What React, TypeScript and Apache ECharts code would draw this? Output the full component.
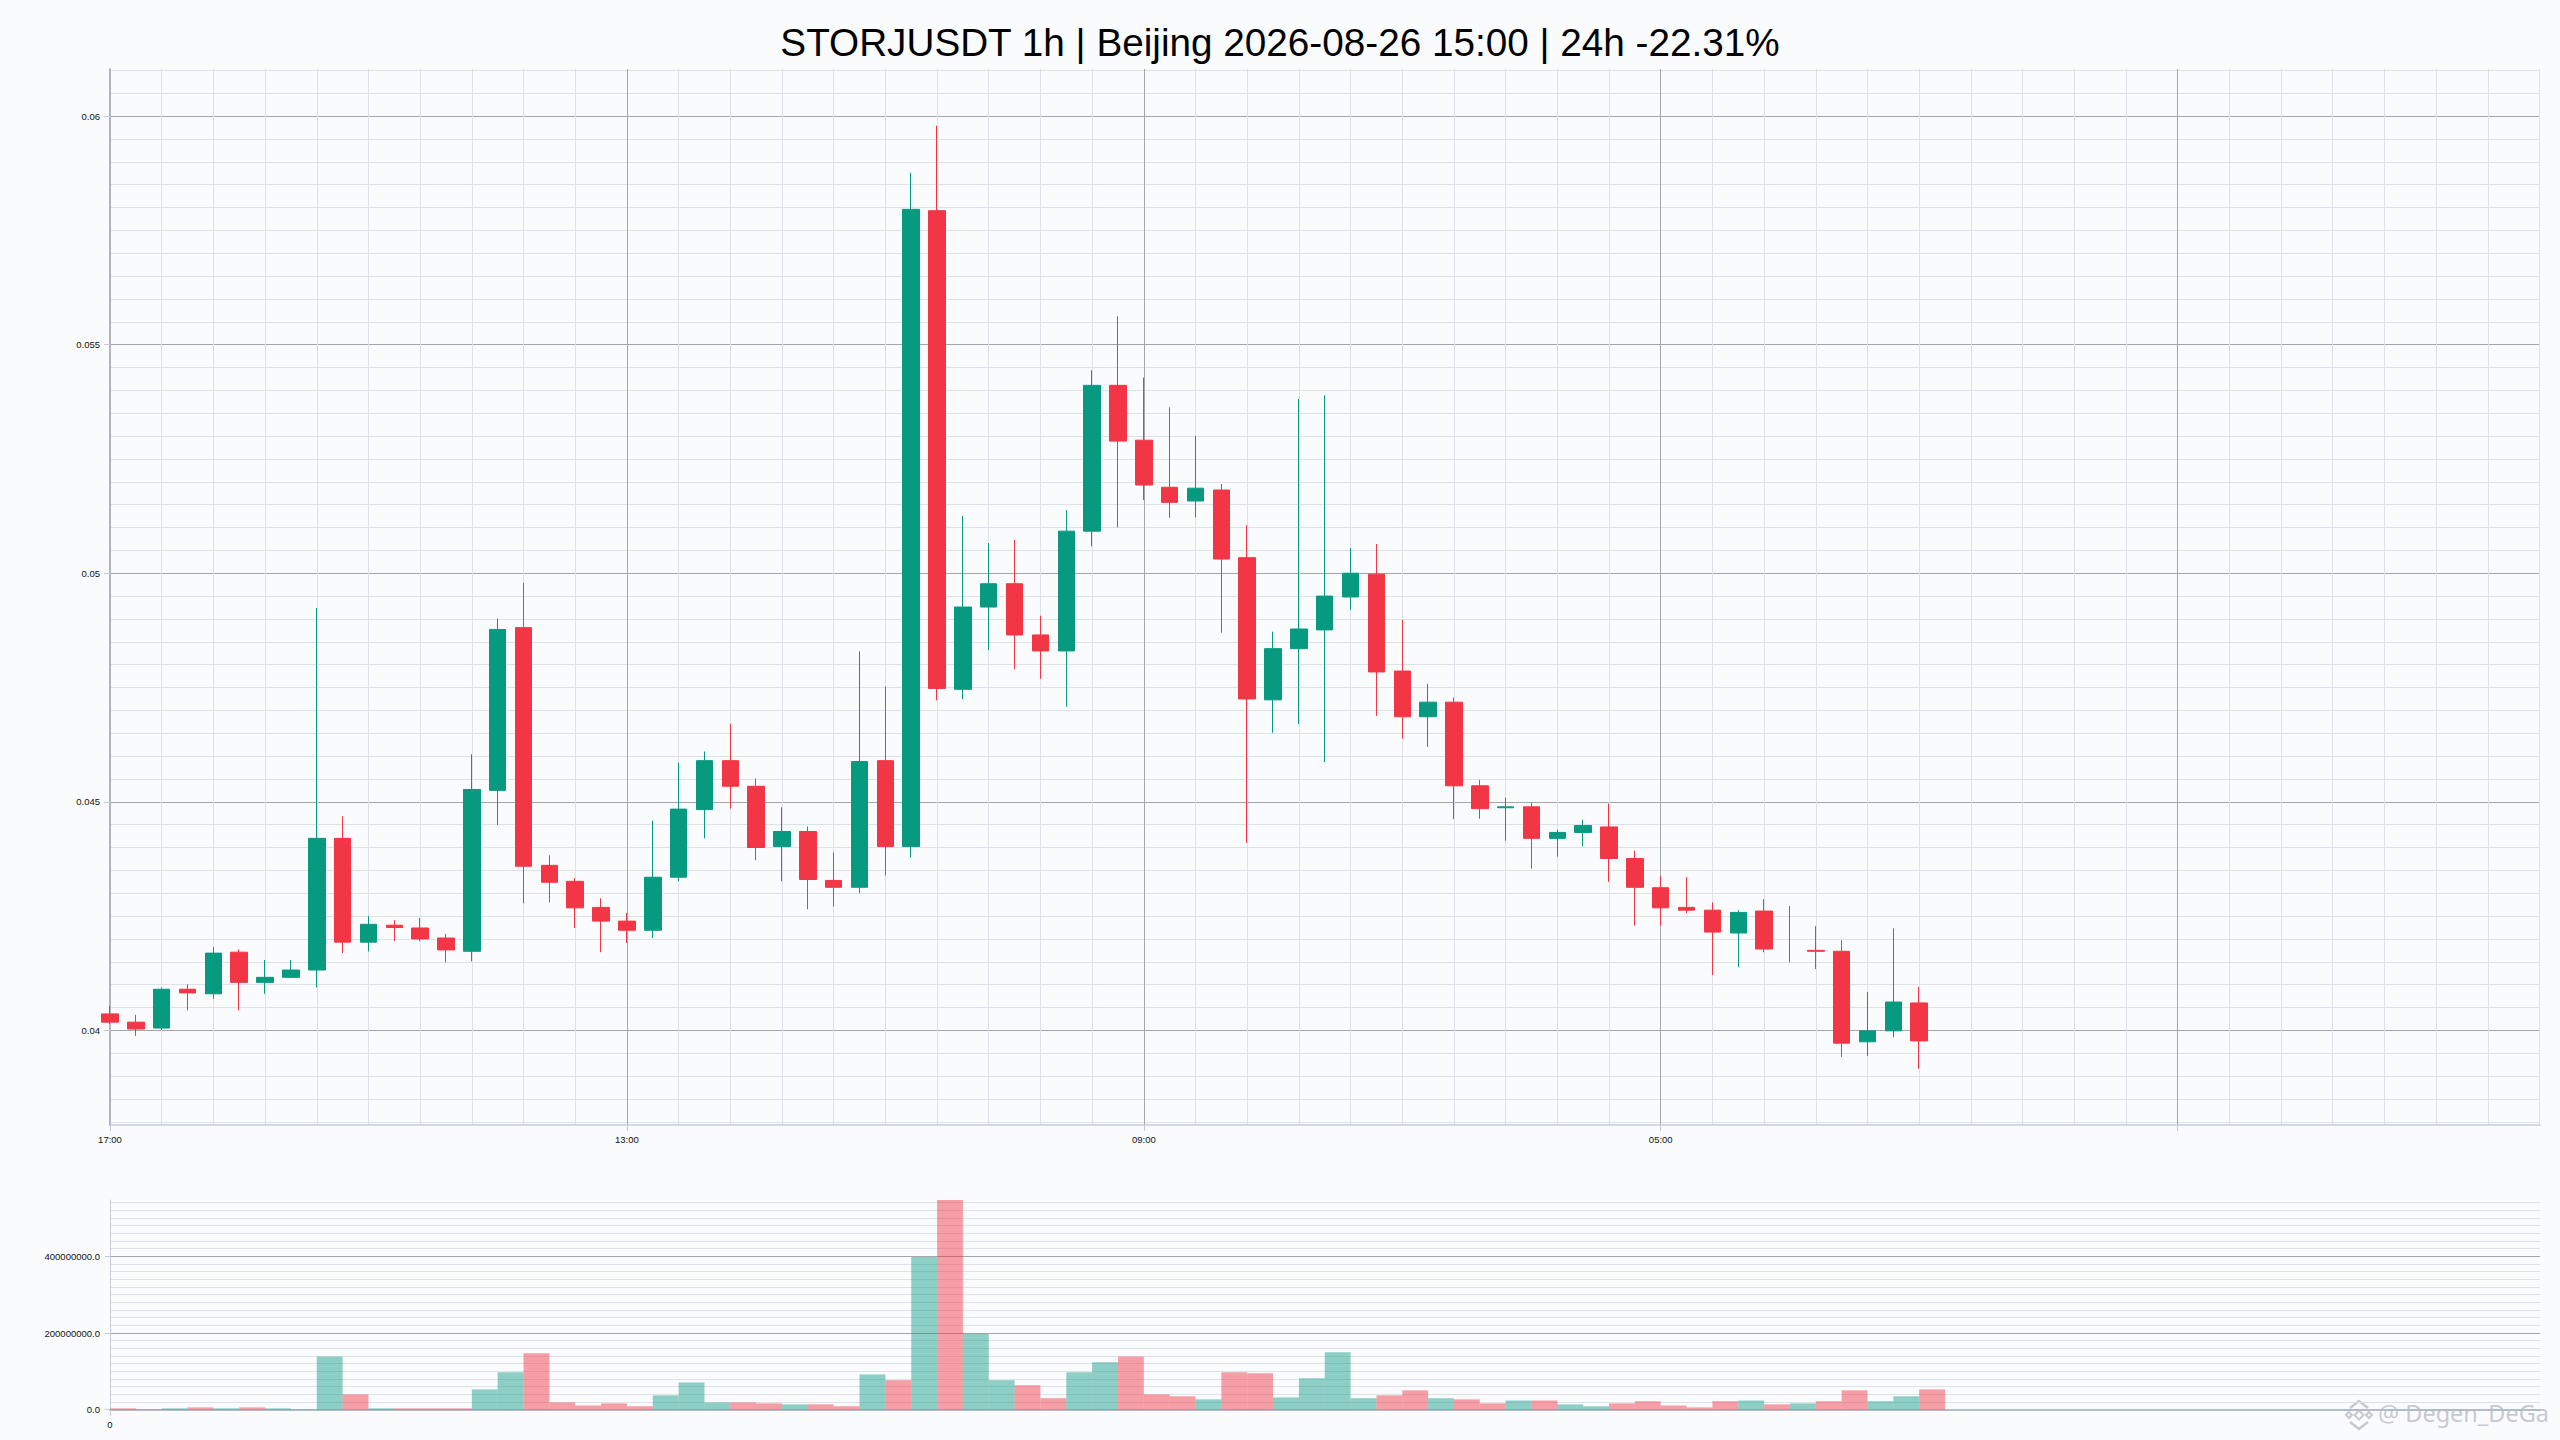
import React, { useEffect, useRef } from "react";
import * as echarts from "echarts";

const titleText = "STORJUSDT 1h | Beijing 2026-08-26 15:00 | 24h -22.31%";
const watermarkText = "@ Degen_DeGa";

const opens = [0.04036,0.04018,0.04005,0.0409,0.0408,0.04171,0.04105,0.04116,0.04132,0.0442,0.04193,0.0423,0.04224,0.04202,0.04173,0.04525,0.04881,0.04361,0.04326,0.04269,0.04239,0.04219,0.04335,0.04483,0.0459,0.04534,0.04402,0.04435,0.04328,0.04313,0.0459,0.04402,0.05793,0.04746,0.04926,0.04977,0.04865,0.0483,0.05092,0.05411,0.05291,0.05188,0.05158,0.05182,0.05034,0.04723,0.04835,0.04876,0.04948,0.04998,0.04786,0.04686,0.04718,0.04535,0.04487,0.04489,0.0442,0.04433,0.04445,0.04376,0.04312,0.04269,0.04263,0.04213,0.04261,0.0421,0.04175,0.04173,0.03975,0.03999,0.0406];
const closes = [0.04018,0.04003,0.0409,0.04082,0.04169,0.04105,0.04116,0.04132,0.0442,0.04193,0.04232,0.04225,0.042,0.04176,0.04527,0.04877,0.04359,0.04324,0.04268,0.04239,0.04219,0.04335,0.04484,0.0459,0.04534,0.044,0.04435,0.0433,0.04313,0.04588,0.04402,0.05796,0.04748,0.04926,0.04977,0.04865,0.0483,0.05092,0.05411,0.05289,0.05193,0.05155,0.05186,0.05031,0.04725,0.04835,0.04878,0.0495,0.05,0.04784,0.04686,0.04718,0.04535,0.04485,0.04489,0.0442,0.04433,0.04448,0.04376,0.04313,0.04268,0.04263,0.04215,0.04258,0.04178,0.0421,0.04173,0.03972,0.03999,0.04062,0.03977];
const lows = [0.04014,0.03988,0.04001,0.04044,0.04069,0.04044,0.0408,0.04115,0.04094,0.04169,0.04173,0.04195,0.04195,0.04149,0.04151,0.04449,0.04278,0.0428,0.04224,0.04171,0.04191,0.04202,0.04326,0.0442,0.04485,0.04372,0.04326,0.04265,0.04271,0.043,0.04339,0.04378,0.04722,0.04724,0.04832,0.0479,0.04769,0.04708,0.05059,0.051,0.0516,0.05121,0.05122,0.0487,0.0441,0.04651,0.0467,0.04587,0.0492,0.04688,0.04638,0.0462,0.04462,0.04463,0.04415,0.04354,0.0438,0.04402,0.04325,0.04229,0.04229,0.04256,0.04121,0.04138,0.04171,0.04149,0.04134,0.03942,0.03944,0.03985,0.03916];
const highs = [0.04053,0.04034,0.04094,0.04101,0.04182,0.04177,0.04154,0.04154,0.04924,0.04468,0.0425,0.04241,0.04246,0.04211,0.04604,0.04901,0.04979,0.04383,0.04333,0.04289,0.04257,0.04459,0.04586,0.0461,0.04671,0.04551,0.04488,0.04446,0.04389,0.04829,0.04752,0.05876,0.05979,0.05125,0.05066,0.05073,0.04907,0.05138,0.05444,0.05562,0.05428,0.05363,0.053,0.05195,0.05105,0.04872,0.05381,0.05389,0.05055,0.05064,0.04898,0.04758,0.04728,0.04548,0.04509,0.04498,0.04439,0.04461,0.04496,0.04393,0.04338,0.04335,0.0428,0.04263,0.04287,0.04272,0.04228,0.04197,0.04084,0.04223,0.04095];
const volumes = [3500000,1000000,3500000,6000000,3500000,6000000,3500000,1000000,139000000,40000000,3500000,3500000,3500000,3500000,53000000,98000000,147000000,19000000,11000000,16500000,9000000,37500000,71000000,19000000,19000000,16500000,14000000,14000000,9000000,92000000,77000000,398000000,547000000,198000000,77000000,64000000,30000000,98000000,124000000,139000000,40000000,35000000,27000000,98000000,95000000,32000000,82000000,150000000,30000000,37500000,50500000,30000000,27000000,16500000,24000000,24000000,14000000,9000000,16500000,22000000,11000000,6000000,22000000,24000000,14000000,16500000,22000000,50500000,22000000,35000000,53000000];

const xTickValues = [0, 20, 40, 60, 80];
const xLabelValues = [0, 20, 40, 60];
const xTickLabels = ["17:00", "13:00", "09:00", "05:00"];
const priceTicks = [0.04, 0.045, 0.05, 0.055, 0.06];
const volumeTicks = [0, 200000000, 400000000];

const UP = "#089981";
const DOWN = "#F23645";
const UP_BAR = "rgba(8,153,129,0.45)";
const DOWN_BAR = "rgba(242,54,69,0.47)";
const BG = "#FAFBFD";
const MAJOR = "#a4a6ac";
const MINOR = "#dde2ea";
const AXIS = "#c5cbdb";
const LABEL = "#111111";
const FONT = "'Liberation Sans', Arial, sans-serif";

const X_MAX = 94.02;
const WM = "rgba(165,170,180,0.62)";

const logoDiamond = (cx: number, cy: number, r: number) => ({
  type: "polygon",
  silent: true,
  shape: { points: [[cx, cy - r], [cx + r, cy], [cx, cy + r], [cx - r, cy]] },
  style: { fill: "none", stroke: WM, lineWidth: 2 },
});
const logoChevron = (pts: number[][]) => ({
  type: "polyline",
  silent: true,
  shape: { points: pts },
  style: { fill: "none", stroke: WM, lineWidth: 2.5 },
});

export default function App() {
  const ref = useRef<HTMLDivElement>(null);

  useEffect(() => {
    if (!ref.current) return;
    const chart = echarts.init(ref.current, undefined, { renderer: "svg" });
    const candle = (i: number) => [i, opens[i], closes[i], lows[i], highs[i]];
    const idx = opens.map((_, i) => i);
    const bodied = idx.filter((i) => opens[i] !== closes[i]).map(candle);
    const bodiless = idx.filter((i) => opens[i] === closes[i]).map(candle);
    const candleStyle = {
      color: UP,
      color0: DOWN,
      borderColor: UP,
      borderColor0: DOWN,
      borderColorDoji: DOWN,
      borderWidth: 1,
    };
    const labelBase = { color: LABEL, fontSize: 9.5, fontFamily: FONT };

    chart.setOption({
      animation: false,
      backgroundColor: BG,
      title: {
        text: titleText,
        left: "center",
        top: 18,
        textStyle: { color: "#000", fontSize: 38.7, fontWeight: "normal", fontFamily: FONT },
      },
      grid: [
        { left: 110, right: 20, top: 69, bottom: 315 },
        { left: 110, right: 20, top: 1200, bottom: 30.3 },
      ],
      xAxis: [
        {
          type: "value",
          gridIndex: 0,
          min: 0,
          max: X_MAX,
          splitNumber: 5,
          axisLine: { show: true, onZero: false, lineStyle: { color: AXIS, width: 1.5 } },
          axisTick: { show: true, length: 6, customValues: xTickValues, lineStyle: { color: AXIS } },
          axisLabel: {
            ...labelBase,
            margin: 9,
            customValues: xLabelValues,
            formatter: (v: number) => xTickLabels[xLabelValues.indexOf(v)] ?? "",
          },
          splitLine: { show: true, lineStyle: { color: MAJOR, width: 1 } },
          minorTick: { show: false, splitNumber: 10 },
          minorSplitLine: { show: true, lineStyle: { color: MINOR, width: 1 } },
        },
        {
          type: "value",
          gridIndex: 1,
          min: 0,
          max: X_MAX,
          splitNumber: 5,
          axisLine: { show: true, onZero: false, lineStyle: { color: "#b4bac6", width: 2 } },
          axisTick: { show: true, length: 6, customValues: [0], lineStyle: { color: AXIS } },
          axisLabel: { ...labelBase, margin: 10, customValues: [0], formatter: () => "0" },
          splitLine: { show: false },
        },
      ],
      yAxis: [
        {
          type: "value",
          gridIndex: 0,
          min: 0.03793,
          max: 0.06103,
          splitNumber: 5,
          axisLine: { show: true, onZero: false, lineStyle: { color: "#b0b4bd", width: 2 } },
          axisTick: { show: true, length: 6, customValues: priceTicks, lineStyle: { color: AXIS } },
          axisLabel: {
            ...labelBase,
            margin: 10,
            customValues: priceTicks,
            formatter: (v: number) => String(v),
          },
          splitLine: { show: true, lineStyle: { color: MAJOR, width: 1 } },
          minorTick: { show: false, splitNumber: 10 },
          minorSplitLine: { show: true, lineStyle: { color: MINOR, width: 1 } },
        },
        {
          type: "value",
          gridIndex: 1,
          min: 0,
          max: 547000000,
          splitNumber: 3,
          axisLine: { show: true, onZero: false, lineStyle: { color: AXIS, width: 1 } },
          axisTick: { show: true, length: 5, customValues: volumeTicks, lineStyle: { color: AXIS } },
          axisLabel: {
            ...labelBase,
            margin: 10,
            customValues: volumeTicks,
            formatter: (v: number) => v.toFixed(1),
          },
          splitLine: { show: true, lineStyle: { color: MAJOR, width: 1 } },
          minorTick: { show: false, splitNumber: 10 },
          minorSplitLine: { show: true, lineStyle: { color: MINOR, width: 1 } },
        },
      ],
      series: [
        {
          name: "price",
          type: "candlestick",
          xAxisIndex: 0,
          yAxisIndex: 0,
          clip: false,
          barWidth: 17,
          encode: { x: 0, y: [1, 2, 3, 4] },
          itemStyle: candleStyle,
          data: bodied,
        },
        {
          name: "price-doji",
          type: "candlestick",
          xAxisIndex: 0,
          yAxisIndex: 0,
          clip: false,
          barWidth: 1,
          encode: { x: 0, y: [1, 2, 3, 4] },
          itemStyle: { ...candleStyle, color: DOWN, borderColor: DOWN },
          data: bodiless,
        },
        {
          name: "volume",
          type: "bar",
          xAxisIndex: 1,
          yAxisIndex: 1,
          barWidth: "100%",
          data: volumes.map((v, i) => ({
            value: [i + 0.5, v],
            itemStyle: { color: closes[i] >= opens[i] ? UP_BAR : DOWN_BAR },
          })),
        },
      ],
      graphic: [
        logoChevron([[2350, 1408], [2359, 1401], [2368, 1408]]),
        logoChevron([[2350, 1422], [2359, 1429], [2368, 1422]]),
        logoDiamond(2359, 1415, 4.5),
        logoDiamond(2349, 1415, 3),
        logoDiamond(2369, 1415, 3),
        {
          type: "text",
          silent: true,
          x: 2378,
          y: 1401,
          style: {
            text: watermarkText,
            fill: WM,
            fontSize: 23.5,
            fontFamily: "'Noto Sans', sans-serif",
          },
        },
      ],
    });
    return () => chart.dispose();
  }, []);

  return (
    <div
      ref={ref}
      style={{ position: "fixed", left: 0, top: 0, width: 2560, height: 1440, background: BG }}
    />
  );
}
